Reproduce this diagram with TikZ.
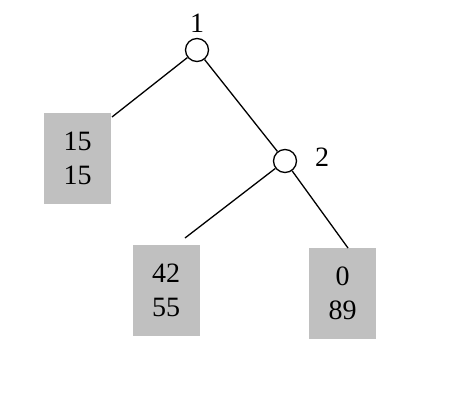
\documentclass[tikz,border=0pt]{standalone}
\usepackage{fontspec}
\setmainfont{Liberation Serif}
\definecolor{boxgray}{RGB}{192,192,192}
\begin{document}
\begin{tikzpicture}[x=1pt,y=-1pt,
  leaf/.style={fill=boxgray,draw=none,minimum width=67pt,minimum height=91pt,inner sep=0pt,align=center,font=\fontsize{28}{34}\selectfont},
  vert/.style={circle,draw,line width=1.3pt,minimum size=23pt,inner sep=0pt},
  lbl/.style={font=\fontsize{28}{34}\selectfont,inner sep=0pt},
  edge/.style={line width=1.3pt}]
\useasboundingbox (0,0) rectangle (472,408);
\node[vert] (c1) at (197,50) {};
\node[vert] (c2) at (285,161) {};
\node[lbl] (l1) at (197,23) {1};
\node[lbl] (l2) at (322,157) {2};
\node[leaf] (b1) at (77.5,158.5) {15\\15};
\node[leaf] (b2) at (166,290.5) {42\\55};
\node[leaf] (b3) at (342.5,293.5) {0\\89};
\coordinate (e1) at (112,117);
\coordinate (e2) at (185,238);
\coordinate (e3) at (348,248);
\draw[edge] (c1) -- (e1);
\draw[edge] (c1) -- (c2);
\draw[edge] (c2) -- (e2);
\draw[edge] (c2) -- (e3);
\end{tikzpicture}
\end{document}
